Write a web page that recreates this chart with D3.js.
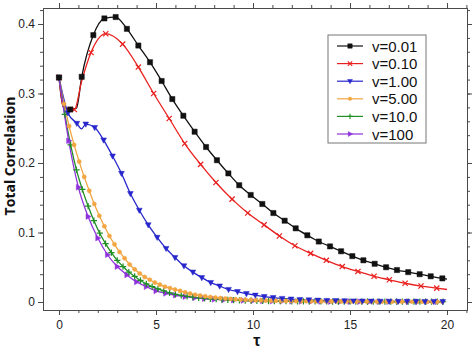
<!DOCTYPE html>
<html>
<head>
<meta charset="utf-8">
<script src="https://cdn.jsdelivr.net/npm/d3@7"></script>
<style>
  body { margin: 0; background: #fff; }
  svg { display: block; font-family: "Liberation Sans", Arial, sans-serif; }
</style>
</head>
<body>
<div id="chart"></div>
<script>
// values, [tau, correlation, (0 = no marker)]
const black = [[0,.323],[0.22,.281,0],[0.58,.277],[0.9,.279,0],[1.17,.324],[1.77,.384],[2.34,.408],[2.92,.410],[3.5,.393],
  [4.09,.369],[4.69,.345],[5.29,.318],[5.84,.292],[6.41,.268],[6.99,.245],[7.58,.223],[8.14,.204],[8.73,.185],[9.29,.168],
  [9.88,.154],[10.48,.141],[11.05,.128],[11.63,.117],[12.2,.106],[12.8,.096],[13.39,.087],[13.97,.080],[14.54,.073],
  [15.12,.066],[15.69,.060],[16.27,.055],[16.86,.050],[17.42,.046],[18.0,.043],[18.59,.040],[19.16,.037],[19.76,.034],[20,.033,0]];

const red = [[0,.323],[0.22,.281,0],[0.79,.277],[1.17,.318,0],[1.65,.359],[2.41,.386],[3.28,.371],[4.09,.338],[4.88,.300],
  [5.68,.264],[6.48,.228],[7.3,.198],[8.09,.172],[8.92,.148],[9.73,.128],[10.57,.111],[11.36,.095],[12.16,.081],[12.97,.070],
  [13.78,.060],[14.6,.051],[15.41,.044],[16.24,.037],[17.03,.032],[17.84,.027],[18.66,.023],[19.47,.020],[20,.018,0]];

const blue = [[0,.323],[0.46,.272],[0.92,.257],[1.16,.249,0],[1.38,.256],[1.84,.251],[2.30,.233],[2.76,.210],[3.22,.185],
  [3.68,.156],[4.14,.132],[4.60,.111],[5.06,.093],[5.52,.077],[5.98,.064],[6.44,.052],[6.90,.043],[7.36,.035],[7.82,.028],
  [8.28,.023],[8.74,.018],[9.20,.015],[9.66,.012],[10.12,.0098],[10.58,.0078],[11.04,.0063],[11.50,.0051],[11.96,.0042],
  [12.42,.0035],[12.88,.003],[13.34,.0026],[13.80,.0022],[14.26,.0019],[14.72,.0017],[15.18,.0015],[15.64,.0013],
  [16.10,.0012],[16.56,.0011],[17.02,.001],[17.48,.0009],[17.94,.0008],[18.40,.0008],[18.86,.0007],[19.32,.0007],[19.78,.0006]];

const orange = [[0,.323],[0.26,.285],[0.52,.253],[0.78,.226],[1.04,.202],[1.30,.180],[1.56,.160],[1.82,.141],[2.08,.124],
  [2.34,.109],[2.60,.095],[2.86,.083],[3.12,.072],[3.38,.063],[3.64,.054],[3.90,.047],[4.16,.041],[4.42,.036],[4.68,.032],
  [4.94,.028],[5.20,.025],[5.46,.022],[5.72,.020],[5.98,.018],[6.24,.016],[6.50,.014],[6.76,.012],[7.02,.0105],[7.28,.0093],
  [7.54,.0082],[7.80,.0072],[8.06,.0064],[8.32,.0056],[8.58,.005],[8.84,.0044],[9.10,.0039],[9.36,.0035],[9.62,.0031],
  [9.88,.0028],[10.14,.0025],[10.40,.0023],[10.66,.0021],[10.92,.0019],[11.18,.0017],[11.44,.0016],[11.70,.0015],
  [11.96,.0014],[12.22,.0013],[12.48,.0012],[12.74,.0011],[13.0,.001],[13.26,.001],[13.52,.0009],[13.78,.0009],
  [14.04,.0008],[14.30,.0008],[14.56,.0008],[14.82,.0007],[15.08,.0007],[15.34,.0007],[15.60,.0006],[15.86,.0006],
  [16.12,.0006],[16.38,.0006],[16.64,.0005],[16.90,.0005],[17.16,.0005],[17.42,.0005],[17.68,.0005],[17.94,.0005],
  [18.20,.0004],[18.46,.0004],[18.72,.0004],[18.98,.0004],[19.24,.0004],[19.50,.0004],[19.76,.0004]];

const green = [[0,.323],[0.3,.270],[0.6,.226],[0.9,.190],[1.2,.162],[1.5,.138],[1.8,.117],[2.1,.099],[2.4,.084],[2.7,.071],
  [3.0,.060],[3.3,.051],[3.6,.043],[3.9,.037],[4.2,.031],[4.5,.026],[4.8,.022],[5.1,.019],[5.4,.016],[5.7,.013],[6.0,.011],
  [6.3,.0095],[6.6,.008],[6.9,.007],[7.2,.006],[7.5,.0052],[7.8,.0045],[8.1,.004],[8.4,.0035],[8.7,.003],[9.0,.0027],
  [9.3,.0024],[9.6,.0021],[9.9,.0019],[10.2,.0017],[10.5,.0015],[10.8,.0014],[11.1,.0013],[11.4,.0012],[11.7,.0011],
  [12.0,.001],[12.3,.001],[12.6,.0009],[12.9,.0009],[13.2,.0008],[13.5,.0008],[13.8,.0008],[14.1,.0007],[14.4,.0007],
  [14.7,.0007],[15.0,.0006],[15.3,.0006],[15.6,.0006],[15.9,.0006],[16.2,.0005],[16.5,.0005],[16.8,.0005],[17.1,.0005],
  [17.4,.0005],[17.7,.0005],[18.0,.0004],[18.3,.0004],[18.6,.0004],[18.9,.0004],[19.2,.0004],[19.5,.0004],[19.8,.0004]];

const purple = [[0,.323],[0.5,.232],[1.0,.165],[1.5,.123],[2.0,.092],[2.5,.068],[3.0,.051],[3.5,.039],[4.0,.029],[4.5,.022],
  [5.0,.016],[5.5,.0125],[6.0,.0097],[6.5,.0077],[7.0,.006],[7.5,.0048],[8.0,.0039],[8.5,.0032],[9.0,.0026],[9.5,.0022],
  [10.0,.0018],[10.5,.0015],[11.0,.0013],[11.5,.0011],[12.0,.001],[12.5,.0009],[13.0,.0008],[13.5,.0008],[14.0,.0007],
  [14.5,.0007],[15.0,.0006],[15.5,.0006],[16.0,.0006],[16.5,.0005],[17.0,.0005],[17.5,.0005],[18.0,.0005],[18.5,.0004],
  [19.0,.0004],[19.5,.0004]];

const seriesNames = ["v=0.01", "v=0.10", "v=1.00", "v=5.00", "v=10.0", "v=100"];
const xTicks = [0, 5, 10, 15, 20];
const yTicks = [0, 0.1, 0.2, 0.3, 0.4];
const yTickLabels = ["0", "0.1", "0.2", "0.3", "0.4"];

const series = [
  { name: seriesNames[0], data: black,  color: "#111111", marker: "square" },
  { name: seriesNames[1], data: red,    color: "#e8201e", marker: "times" },
  { name: seriesNames[2], data: blue,   color: "#2626cc", marker: "triDown" },
  { name: seriesNames[3], data: orange, color: "#f2a541", marker: "dot" },
  { name: seriesNames[4], data: green,  color: "#1f8f24", marker: "plus" },
  { name: seriesNames[5], data: purple, color: "#8f32dc", marker: "triRight" }
];

const width = 474, height = 353;
const frame = { left: 43, right: 467, top: 8, bottom: 310 };

const svg = d3.select("#chart").append("svg")
  .attr("width", width)
  .attr("height", height);

const x = d3.scaleLinear().domain([-0.825, 21.03]).range([frame.left, frame.right]);
const y = d3.scaleLinear().domain([-0.0115, 0.423]).range([frame.bottom, frame.top]);

// marker shapes (centred on 0,0)
function markerPath(type, s) {
  switch (type) {
    case "square": return `M${-s},${-s}H${s}V${s}H${-s}Z`;
    case "times": return `M${-s},${-s}L${s},${s}M${-s},${s}L${s},${-s}`;
    case "triDown": return `M${-s * 1.1},${-s * 0.8}H${s * 1.1}L0,${s * 1.2}Z`;
    case "dot": return `M${-s * 0.8},0A${s * 0.8},${s * 0.8} 0 1,0 ${s * 0.8},0A${s * 0.8},${s * 0.8} 0 1,0 ${-s * 0.8},0Z`;
    case "plus": return `M${-s * 1.2},0H${s * 1.2}M0,${-s * 1.2}V${s * 1.2}`;
    case "triRight": return `M${-s * 0.8},${-s * 1.1}L${s * 1.2},0L${-s * 0.8},${s * 1.1}Z`;
  }
}
const isStroke = t => t === "times" || t === "plus";

// axes
const axisColor = "#4a4a4a";
function styleAxis(g) {
  g.selectAll("path.domain").attr("stroke", axisColor);
  g.selectAll(".tick line").attr("stroke", axisColor);
  g.selectAll(".tick text").attr("fill", "#222").style("font-size", "12px")
    .style("font-family", "'Liberation Sans', Arial, sans-serif");
}

const xMinor = d3.range(0, 22, 1);
const yMinor = d3.range(0, 0.43, 0.02);

// minor ticks
svg.append("g").attr("transform", `translate(0,${frame.bottom})`)
  .call(d3.axisBottom(x).tickValues(xMinor).tickFormat("").tickSize(3).tickSizeOuter(0)).call(styleAxis);
svg.append("g").attr("transform", `translate(0,${frame.top})`)
  .call(d3.axisTop(x).tickValues(xMinor).tickFormat("").tickSize(3).tickSizeOuter(0)).call(styleAxis);
svg.append("g").attr("transform", `translate(${frame.left},0)`)
  .call(d3.axisLeft(y).tickValues(yMinor).tickFormat("").tickSize(3).tickSizeOuter(0)).call(styleAxis);
svg.append("g").attr("transform", `translate(${frame.right},0)`)
  .call(d3.axisRight(y).tickValues(yMinor).tickFormat("").tickSize(3).tickSizeOuter(0)).call(styleAxis);

// major ticks
svg.append("g").attr("transform", `translate(0,${frame.bottom})`)
  .call(d3.axisBottom(x).tickValues(xTicks).tickFormat(d3.format("d")).tickSize(5).tickPadding(5).tickSizeOuter(0))
  .call(styleAxis);
svg.append("g").attr("transform", `translate(0,${frame.top})`)
  .call(d3.axisTop(x).tickValues(xTicks).tickFormat("").tickSize(5).tickSizeOuter(0)).call(styleAxis);
svg.append("g").attr("transform", `translate(${frame.left},0)`)
  .call(d3.axisLeft(y).tickValues(yTicks).tickFormat((d, i) => yTickLabels[i]).tickSize(5).tickPadding(3).tickSizeOuter(0))
  .call(styleAxis);
svg.append("g").attr("transform", `translate(${frame.right},0)`)
  .call(d3.axisRight(y).tickValues(yTicks).tickFormat("").tickSize(5).tickSizeOuter(0)).call(styleAxis);

// axis titles
svg.append("text")
  .attr("transform", `translate(15,156) rotate(-90)`)
  .attr("text-anchor", "middle")
  .style("font-family", "'Open Sans', sans-serif")
  .style("font-size", "14px")
  .style("font-weight", "bold")
  .attr("fill", "#111")
  .text("Total Correlation");

svg.append("text")
  .attr("x", x(10.2))
  .attr("y", 346)
  .attr("text-anchor", "middle")
  .style("font-size", "16px")
  .style("font-weight", "bold")
  .attr("fill", "#111")
  .text("τ");

// curves
const line = d3.line()
  .x(d => x(d[0]))
  .y(d => y(d[1]))
  .curve(d3.curveMonotoneX);

const plot = svg.append("g");
series.forEach(s => {
  plot.append("path")
    .datum(s.data)
    .attr("fill", "none")
    .attr("stroke", s.color)
    .attr("stroke-width", 1.3)
    .attr("d", line);
});
// markers, slow curves drawn last so the shared start point shows the square
series.slice().reverse().forEach(s => {
  plot.append("g").selectAll("path")
    .data(s.data.filter(d => d[2] !== 0))
    .join("path")
    .attr("transform", d => `translate(${x(d[0])},${y(d[1])})`)
    .attr("d", markerPath(s.marker, 2.6))
    .attr("fill", isStroke(s.marker) ? "none" : s.color)
    .attr("stroke", s.color)
    .attr("stroke-width", isStroke(s.marker) ? 1.2 : 0.5);
});

// legend
const legend = svg.append("g").attr("transform", "translate(328,35)");
legend.append("rect")
  .attr("width", 98).attr("height", 108)
  .attr("fill", "#fff").attr("stroke", "#777").attr("stroke-width", 1);
series.forEach((s, i) => {
  const row = legend.append("g").attr("transform", `translate(0,${11 + i * 17.6})`);
  row.append("line").attr("x1", 9).attr("x2", 35).attr("y1", 0).attr("y2", 0)
    .attr("stroke", s.color).attr("stroke-width", 1.2);
  row.append("path").attr("transform", "translate(22,0)")
    .attr("d", markerPath(s.marker, 2.2))
    .attr("fill", isStroke(s.marker) ? "none" : s.color)
    .attr("stroke", s.color).attr("stroke-width", isStroke(s.marker) ? 1.1 : 0.5);
  row.append("text").attr("x", 44).attr("y", 5.5)
    .style("font-size", "15px").attr("fill", "#111")
    .text(s.name);
});
</script>
</body>
</html>
